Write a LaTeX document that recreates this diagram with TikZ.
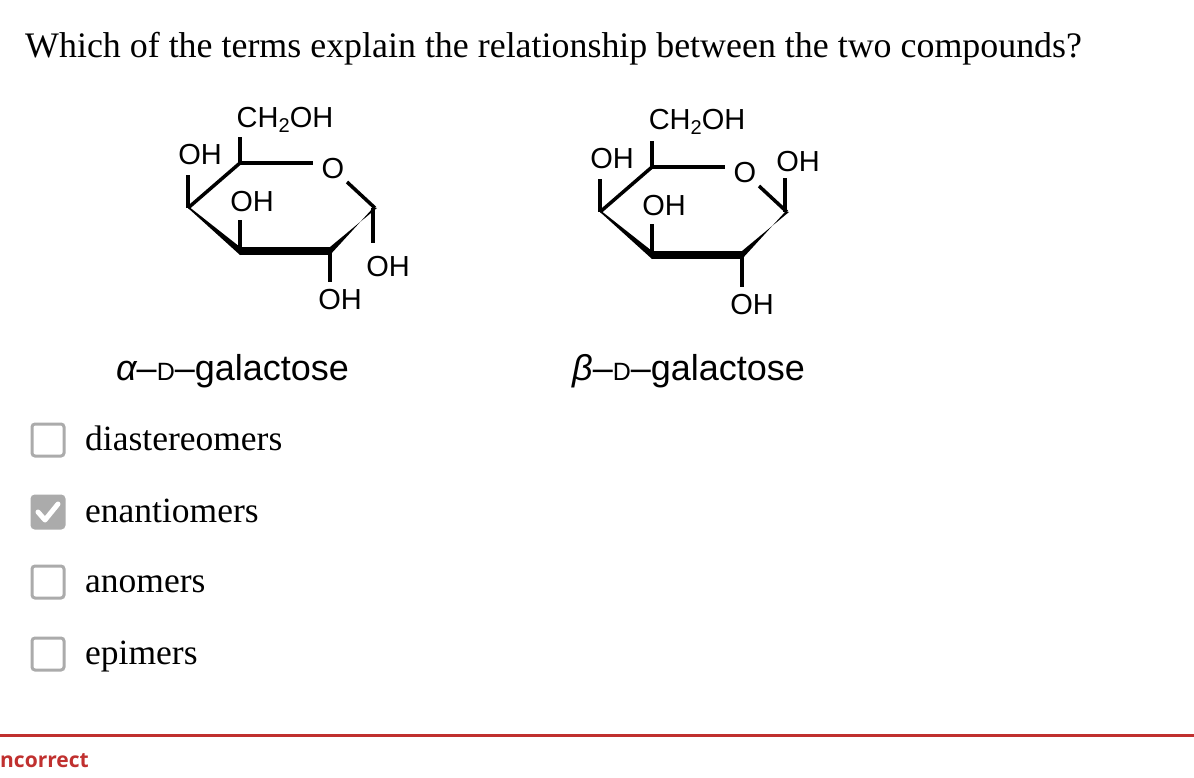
\documentclass[tikz,border=0pt]{standalone}
\usepackage{fontspec}
\setmainfont{Liberation Serif}
\newfontfamily\chem{Liberation Sans}
\newfontfamily\osans{Open Sans}
\newcommand{\subtwo}{\raisebox{-5pt}{\fontsize{20}{20}\selectfont 2}}
\begin{document}
\begin{tikzpicture}[x=1pt,y=-1pt]
\tikzset{bond/.style={line width=3.5pt},
 lab/.style={font=\chem\fontsize{29}{29}\selectfont,inner sep=0pt},
 nm/.style={font=\chem\fontsize{36}{36}\selectfont,inner sep=0pt,anchor=base west},
 opt/.style={font=\fontsize{35.5}{35.5}\selectfont,anchor=base west,inner sep=0pt},
 cbox/.style={draw=black!33,line width=3pt,rounded corners=3pt,minimum size=32pt,inner sep=0pt}}
\useasboundingbox (0,0) rectangle (1194,778);
\node[anchor=base west,inner sep=0pt,font=\fontsize{35.9}{35.9}\selectfont] (title) at (25,58) {Which of the terms explain the relationship between the two compounds?};
% alpha
\begin{scope}
\coordinate (c5) at (240,163); \coordinate (c4) at (188,208); \coordinate (c3) at (240,253);
\coordinate (c2) at (330,253); \coordinate (c1) at (375,208);
\node[lab] (a6) at (285,120) {CH\subtwo OH};
\node[lab] (ao) at (333,169) {O};
\draw[bond] (c5) -- (240,137);
\draw[bond] (c5) -- (313,163);
\draw[bond] (347,182) -- (c1);
\draw[bond] (c4) -- (c5);
\fill (c4) -- ([yshift=-2pt]c3) -- ([yshift=6pt]c3) -- ([yshift=2pt]c4) -- cycle;
\fill ([yshift=-2pt]c3) -- ([yshift=-2pt]c2) -- ([yshift=6pt]c2) -- ([yshift=6pt]c3) -- cycle;
\fill ([yshift=-2pt]c2) -- ([xshift=-2pt]c1) -- ([xshift=2pt]c1) -- ([yshift=6pt]c2) -- cycle;
\draw[bond] (c4) -- (188,175); \node[lab] (a4) at (200,155) {OH};
\draw[bond] (c3) -- (240,220); \node[lab] (a3) at (252,202) {OH};
\draw[bond] (c2) -- (330,282); \node[lab] (a2) at (340,300) {OH};
\draw[bond] (373,208) -- (373,243); \node[lab] (a1) at (388,267) {OH};
\node[nm] (an) at (116,380) {{\itshape α}–{\fontsize{25}{25}\selectfont D}–galactose};
\end{scope}
% beta
\begin{scope}[shift={(412,4)}]
\coordinate (d5) at (240,163); \coordinate (d4) at (188,208); \coordinate (d3) at (240,253);
\coordinate (d2) at (330,253); \coordinate (d1) at (375,208);
\node[lab] (b6) at (285,118) {CH\subtwo OH};
\node[lab] (bo) at (333,169) {O};
\draw[bond] (d5) -- (240,137);
\draw[bond] (d5) -- (313,163);
\draw[bond] (347,182) -- (d1);
\draw[bond] (d4) -- (d5);
\fill (d4) -- ([yshift=-2pt]d3) -- ([yshift=6pt]d3) -- ([yshift=2pt]d4) -- cycle;
\fill ([yshift=-2pt]d3) -- ([yshift=-2pt]d2) -- ([yshift=6pt]d2) -- ([yshift=6pt]d3) -- cycle;
\fill ([yshift=-2pt]d2) -- ([xshift=-2pt]d1) -- ([xshift=2pt]d1) -- ([yshift=6pt]d2) -- cycle;
\draw[bond] (d4) -- (188,175); \node[lab] (b4) at (200,155) {OH};
\draw[bond] (d3) -- (240,220); \node[lab] (b3) at (252,202) {OH};
\draw[bond] (d2) -- (330,283); \node[lab] (b2) at (340,301) {OH};
\draw[bond] (373,208) -- (373,174); \node[lab] (b1) at (386,158) {OH};
\end{scope}
\node[nm] (bn) at (572,380) {{\itshape β}–{\fontsize{25}{25}\selectfont D}–galactose};
% options
\node[cbox] (k1) at (48,440) {}; \node[opt] (o1) at (85,450) {diastereomers};
\node[cbox,fill=black!33] (k2) at (48,512) {};
\draw[white,line width=5pt,line cap=round,line join=round] (38,512) -- (45,520) -- (58,504);
\node[opt] (o2) at (85,522) {enantiomers};
\node[cbox] (k3) at (48,582) {}; \node[opt] (o3) at (85,592) {anomers};
\node[cbox] (k4) at (48,654) {}; \node[opt] (o4) at (85,664) {epimers};
\draw[line width=3pt,color={rgb,255:red,192;green,48;blue,47}] (0,735) -- (1194,735);
\node[anchor=base west,inner sep=0pt,font=\osans\bfseries\fontsize{21}{21}\selectfont,text={rgb,255:red,192;green,48;blue,47}] (inc) at (0,767) {ncorrect};
\end{tikzpicture}
\end{document}
